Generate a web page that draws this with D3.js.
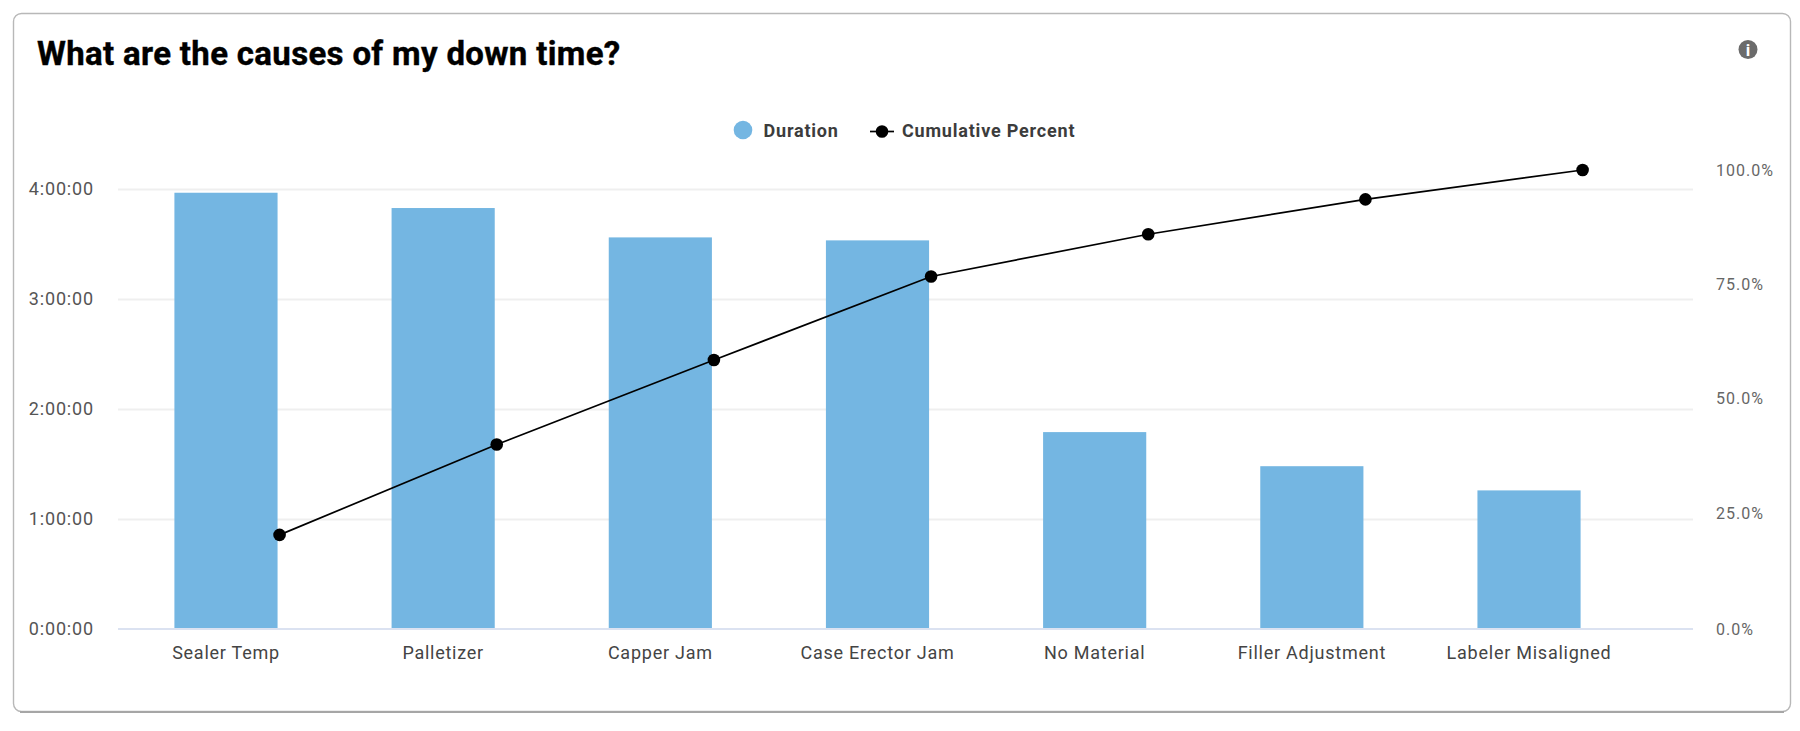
<!DOCTYPE html>
<html>
<head>
<meta charset="utf-8">
<script src="https://cdnjs.cloudflare.com/ajax/libs/d3/7.8.5/d3.min.js"></script>
<style>
html,body{margin:0;padding:0;background:#fff;}
svg{display:block;font-family:Roboto,sans-serif;}
</style>
</head>
<body>
<svg id="chart" width="1800" height="731"></svg>
<script>
const titleText = "What are the causes of my down time?";
const categories = ["Sealer Temp","Palletizer","Capper Jam","Case Erector Jam","No Material","Filler Adjustment","Labeler Misaligned"];
const durationHours = [3.966,3.827,3.56,3.533,1.79,1.48,1.26];
const cumulativePercent = [20.5,40.2,58.6,76.8,86.0,93.6,100];
const leftTicks = [0,1,2,3,4];
const rightTicks = [0,25,50,75,100];
const legendLabels = ["Duration","Cumulative Percent"];

const svg = d3.select("#chart");

// card
svg.append("rect").attr("x",13.5).attr("y",13.5).attr("width",1777).attr("height",698).attr("rx",8)
  .attr("fill","#fff").attr("stroke","#b8b8b8").attr("stroke-width",1.4);
svg.append("line").attr("x1",20).attr("x2",1784).attr("y1",712).attr("y2",712).attr("stroke","#a6a6a6").attr("stroke-width",2);

svg.append("text").attr("x",37).attr("y",65).text(titleText)
  .attr("font-size",33).attr("font-weight",700).attr("fill","#000").attr("letter-spacing",0.33)
  .attr("stroke","#000").attr("stroke-width",0.4);

// info icon
const info = svg.append("g").attr("transform","translate(1748,49.5)");
info.append("circle").attr("r",9.5).attr("fill","#6b6b6b");
info.append("text").attr("text-anchor","middle").attr("y",6).attr("font-size",17).attr("font-weight",700)
  .attr("fill","#fff").text("i");

const gridLeft = 118, gridRight = 1693, bandLeft = 117.4, bandRight = 1637.6, y0 = 629, yTop = 189, yPctTop = 170;

const x = d3.scaleBand().domain(categories).range([bandLeft,bandRight]).paddingInner(0.525).paddingOuter(0.2625);
const yDur = d3.scaleLinear().domain([0,4]).range([y0,yTop]);
const yPct = d3.scaleLinear().domain([0,100]).range([y0,yPctTop]);

function fmtDur(h){return h+":00:00";}

// grid
const gridAxis = d3.axisLeft(yDur).tickValues(leftTicks.slice(1)).tickSize(-(gridRight-gridLeft)).tickFormat("");
const gg = svg.append("g").attr("transform",`translate(${gridLeft},0)`).call(gridAxis);
gg.select(".domain").remove();
gg.selectAll("line").attr("stroke","#efefef").attr("stroke-width",2);

// bars
svg.append("g").selectAll("rect").data(categories).join("rect")
  .attr("x",d=>x(d)).attr("width",x.bandwidth())
  .attr("y",(d,i)=>yDur(durationHours[i])).attr("height",(d,i)=>y0-yDur(durationHours[i]))
  .attr("fill","#74B6E2");

// baseline
svg.append("line").attr("x1",gridLeft).attr("x2",gridRight).attr("y1",y0).attr("y2",y0)
  .attr("stroke","#dbe2f1").attr("stroke-width",2);

// left axis
const la = svg.append("g").attr("transform",`translate(94,0)`)
  .call(d3.axisLeft(yDur).tickValues(leftTicks).tickFormat(fmtDur).tickSize(0).tickPadding(0));
la.select(".domain").remove();
la.selectAll("text").attr("font-size",18).attr("font-family","Roboto").attr("letter-spacing",0.85).attr("fill","#555");

// right axis
const ra = svg.append("g").attr("transform",`translate(1716,0)`)
  .call(d3.axisRight(yPct).tickValues(rightTicks).tickFormat(d=>d.toFixed(1)+"%").tickSize(0).tickPadding(0));
ra.select(".domain").remove();
ra.selectAll("text").attr("font-size",16).attr("font-family","Roboto").attr("letter-spacing",1).attr("fill","#666")
  .attr("dy",d=>(d===25||d===50)?"0.26em":"0.32em");

// bottom axis
const ba = svg.append("g").attr("transform",`translate(0,${y0})`)
  .call(d3.axisBottom(x).tickSize(0).tickPadding(17));
ba.select(".domain").remove();
ba.selectAll("text").attr("font-size",18).attr("font-family","Roboto").attr("letter-spacing",0.75).attr("fill","#444");

// line
const px = d => x(d)+x.bandwidth()+2;
const line = d3.line().x((d,i)=>px(categories[i])).y(d=>yPct(d));
svg.append("path").attr("d",line(cumulativePercent)).attr("fill","none").attr("stroke","#000").attr("stroke-width",1.7);
svg.append("g").selectAll("circle").data(cumulativePercent).join("circle")
  .attr("cx",(d,i)=>px(categories[i])).attr("cy",d=>yPct(d)).attr("r",6.3).attr("fill","#000");

// legend
const lg = svg.append("g");
lg.append("circle").attr("cx",743).attr("cy",130).attr("r",9.3).attr("fill","#74B6E2");
lg.append("text").attr("x",763.5).attr("y",137).text(legendLabels[0])
  .attr("font-size",18).attr("font-weight",700).attr("fill","#3c3c3c").attr("letter-spacing",0.8);
lg.append("line").attr("x1",870).attr("x2",894).attr("y1",131.5).attr("y2",131.5).attr("stroke","#000").attr("stroke-width",1.7);
lg.append("circle").attr("cx",882).attr("cy",131.5).attr("r",6.3).attr("fill","#000");
lg.append("text").attr("x",902).attr("y",137).text(legendLabels[1])
  .attr("font-size",18).attr("font-weight",700).attr("fill","#3c3c3c").attr("letter-spacing",0.8);
</script>
</body>
</html>
